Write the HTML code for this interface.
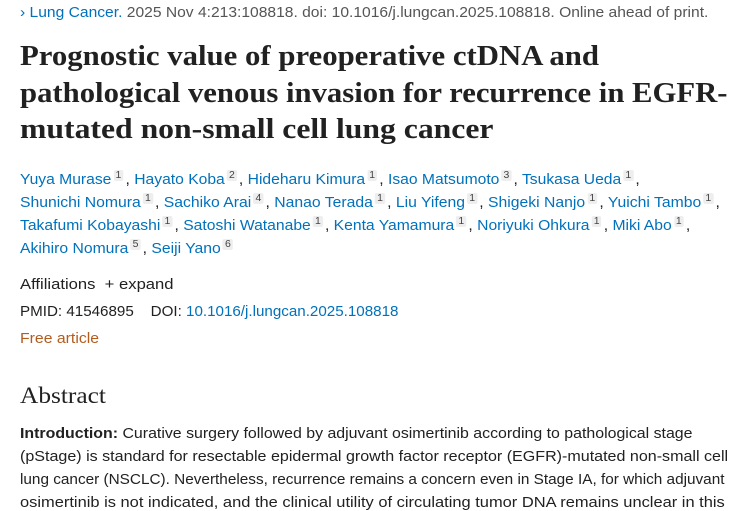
<!DOCTYPE html>
<html><head><meta charset="utf-8"><style>
body{margin:0;width:750px;height:500px;overflow:hidden;background:#fff;font-family:"Liberation Sans",sans-serif;color:#212121;position:relative}
.l{position:absolute;left:20px;white-space:nowrap;transform-origin:0 50%}
a{color:#0071bc;text-decoration:none}
.t{font-family:"Liberation Serif",serif;font-weight:bold;font-size:28px;color:#212121}
.s{font-size:15px}
sup{font-size:10px;color:#444;background:#eee;padding:0 2px;border-radius:2px;margin:0 2px;vertical-align:6px}
</style></head><body>
<div class="l s" data-w="688" style="top:4px"><a href="#">› Lung Cancer.</a> <span style="color:#555">2025 Nov 4:213:108818. doi: 10.1016/j.lungcan.2025.108818. Online ahead of print.</span></div>
<div class="l t" data-w="579" style="top:41px">Prognostic value of preoperative ctDNA and</div>
<div class="l t" data-w="708" style="top:78px">pathological venous invasion for recurrence in EGFR-</div>
<div class="l t" data-w="473" style="top:114px">mutated non-small cell lung cancer</div>
<div class="l s" data-w="620" style="top:170px"><a href="#">Yuya Murase</a><sup>1</sup>, <a href="#">Hayato Koba</a><sup>2</sup>, <a href="#">Hideharu Kimura</a><sup>1</sup>, <a href="#">Isao Matsumoto</a><sup>3</sup>, <a href="#">Tsukasa Ueda</a><sup>1</sup>,</div>
<div class="l s" data-w="700" style="top:193px"><a href="#">Shunichi Nomura</a><sup>1</sup>, <a href="#">Sachiko Arai</a><sup>4</sup>, <a href="#">Nanao Terada</a><sup>1</sup>, <a href="#">Liu Yifeng</a><sup>1</sup>, <a href="#">Shigeki Nanjo</a><sup>1</sup>, <a href="#">Yuichi Tambo</a><sup>1</sup>,</div>
<div class="l s" data-w="670" style="top:216px"><a href="#">Takafumi Kobayashi</a><sup>1</sup>, <a href="#">Satoshi Watanabe</a><sup>1</sup>, <a href="#">Kenta Yamamura</a><sup>1</sup>, <a href="#">Noriyuki Ohkura</a><sup>1</sup>, <a href="#">Miki Abo</a><sup>1</sup>,</div>
<div class="l s" data-w="215" style="top:239px"><a href="#">Akihiro Nomura</a><sup>5</sup>, <a href="#">Seiji Yano</a><sup>6</sup></div>
<div class="l s" data-w="154" style="top:276px">Affiliations &nbsp;<b style="font-weight:normal">+</b> expand</div>
<div class="l s" data-w="378" style="top:303px">PMID: 41546895 &nbsp;&nbsp; DOI: <a href="#">10.1016/j.lungcan.2025.108818</a></div>
<div class="l s" data-w="79" style="top:330px;color:#b35c1e">Free article</div>
<div class="l" data-w="86" style="top:383px;font-family:'Liberation Serif',serif;font-size:23px">Abstract</div>
<div class="l s" data-w="672" style="top:425px"><b>Introduction:</b> Curative surgery followed by adjuvant osimertinib according to pathological stage</div>
<div class="l s" data-w="708" style="top:448px">(pStage) is standard for resectable epidermal growth factor receptor (EGFR)-mutated non-small cell</div>
<div class="l s" data-w="705" style="top:471px">lung cancer (NSCLC). Nevertheless, recurrence remains a concern even in Stage IA, for which adjuvant</div>
<div class="l s" data-w="705" style="top:494px">osimertinib is not indicated, and the clinical utility of circulating tumor DNA remains unclear in this</div>
<script>
document.querySelectorAll('.l').forEach(function(e){var w=+e.getAttribute('data-w');var r=e.scrollWidth;if(w&&r)e.style.transform='scaleX('+(w/r)+')';});
</script>
</body></html>
